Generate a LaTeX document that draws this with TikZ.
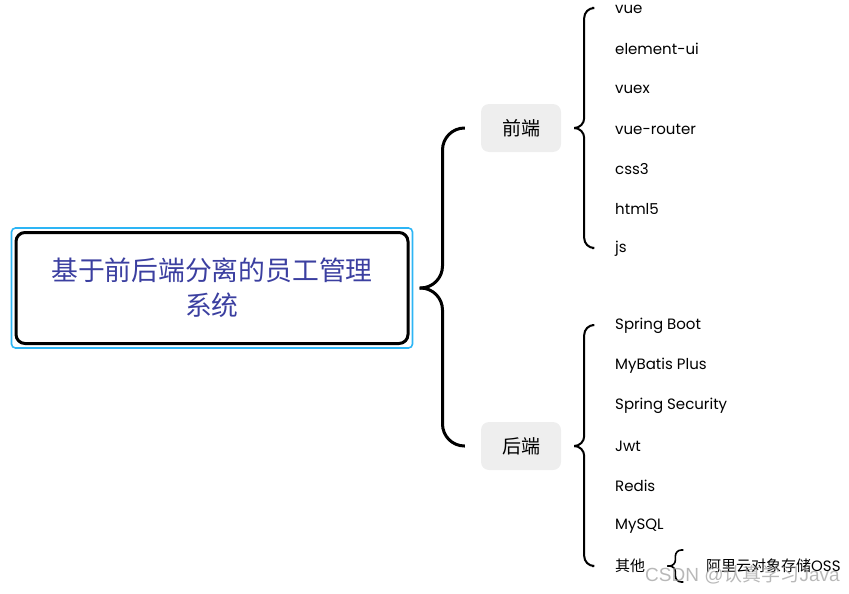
\documentclass[tikz,border=0pt]{standalone}
\usepackage{fontspec}
\setmainfont{Poppins}
\newfontfamily\cjk{Noto Sans CJK SC}
\newfontfamily\marksf{Liberation Sans}
\newcommand{\zh}[1]{{\cjk #1}}
\definecolor{titleblue}{HTML}{3B3FA0}
\definecolor{selblue}{HTML}{2DB5F5}
\definecolor{boxgray}{HTML}{EEEEEE}
\definecolor{markgray}{HTML}{9A9A9A}

\begin{document}
\begin{tikzpicture}[x=1pt,y=-1pt]
    \tikzstyle{root}=[draw=black,line width=3pt,rounded corners=9pt,minimum width=392pt,minimum height=111pt,align=center,text=titleblue,font=\fontsize{26.8}{35}\selectfont\cjk]
    \tikzstyle{branch}=[fill=boxgray,rounded corners=8pt,minimum width=80pt,minimum height=48pt,font=\fontsize{19}{22}\selectfont\cjk]
    \tikzstyle{leaf}=[anchor=west,inner sep=0pt,font=\fontsize{15}{18}\selectfont]
    \tikzstyle{bigbrace}=[line width=3pt,rounded corners=22pt]
    \tikzstyle{brace}=[line width=2pt,rounded corners=10pt]
    \tikzstyle{smallbrace}=[line width=1.6pt,rounded corners=6pt]
    \useasboundingbox (0,0) rectangle (849,594);
    \node[root] (sys) at (212,288) {基于前后端分离的员工管理\\系统};
    \draw[selblue,line width=1.6pt,rounded corners=4pt] ([shift={(-3,-3)}]sys.north west) rectangle ([shift={(3,3)}]sys.south east);
    \node[branch] (fe) at (521,128) {前端};
    \node[branch] (be) at (521,446) {后端};
    % front end
    \node[leaf] (vue) at (615,9) {vue};
    \node[leaf] (eui) at (615,49) {element-ui};
    \node[leaf] (vuex) at (615,89) {vuex};
    \node[leaf] (router) at (615,129) {vue-router};
    \node[leaf] (css) at (615,169) {css3};
    \node[leaf] (html) at (615,209) {html5};
    \node[leaf] (js) at (615,249) {js};
    % back end
    \node[leaf] (boot) at (615,326) {Spring Boot};
    \node[leaf] (mbp) at (615,366) {MyBatis Plus};
    \node[leaf] (sec) at (615,406) {Spring Security};
    \node[leaf] (jwt) at (615,446) {Jwt};
    \node[leaf] (redis) at (615,486) {Redis};
    \node[leaf] (mysql) at (615,526) {MySQL};
    \node[leaf] (other) at (615,566) {\zh{其他}};
    \node[leaf] (oss) at (706,566) {\zh{阿里云对象存储}OSS};
    % braces
    \draw[bigbrace] ([xshift=-16pt]fe.west) -| ([xshift=33pt]sys.east) -- ([xshift=10pt]sys.east);
    \draw[bigbrace] ([xshift=-16pt]be.west) -| ([xshift=33pt]sys.east) -- ([xshift=10pt]sys.east);
    \draw[brace] ([shift={(-23,-1)}]vue.west) -| ([xshift=23pt]fe.east) -- ([xshift=14pt]fe.east);
    \draw[brace] ([shift={(-23,-1)}]js.west) -| ([xshift=23pt]fe.east) -- ([xshift=14pt]fe.east);
    \draw[brace] ([shift={(-23,-1)}]boot.west) -| ([xshift=23pt]be.east) -- ([xshift=14pt]be.east);
    \draw[brace] ([xshift=-23pt]other.west) -| ([xshift=23pt]be.east) -- ([xshift=14pt]be.east);
    \draw[smallbrace] ([shift={(38,-16)}]other.east) -| ([xshift=30pt]other.east) -- ([xshift=22pt]other.east);
    \draw[smallbrace] ([shift={(38,16)}]other.east) -| ([xshift=30pt]other.east) -- ([xshift=22pt]other.east);
    % watermark
    \node[anchor=west,inner sep=0pt,text=markgray,text opacity=0.7,font=\fontsize{19}{22}\selectfont\marksf] (mark) at (645,575) {CSDN @\zh{认真学习}Java};
\end{tikzpicture}
\end{document}
